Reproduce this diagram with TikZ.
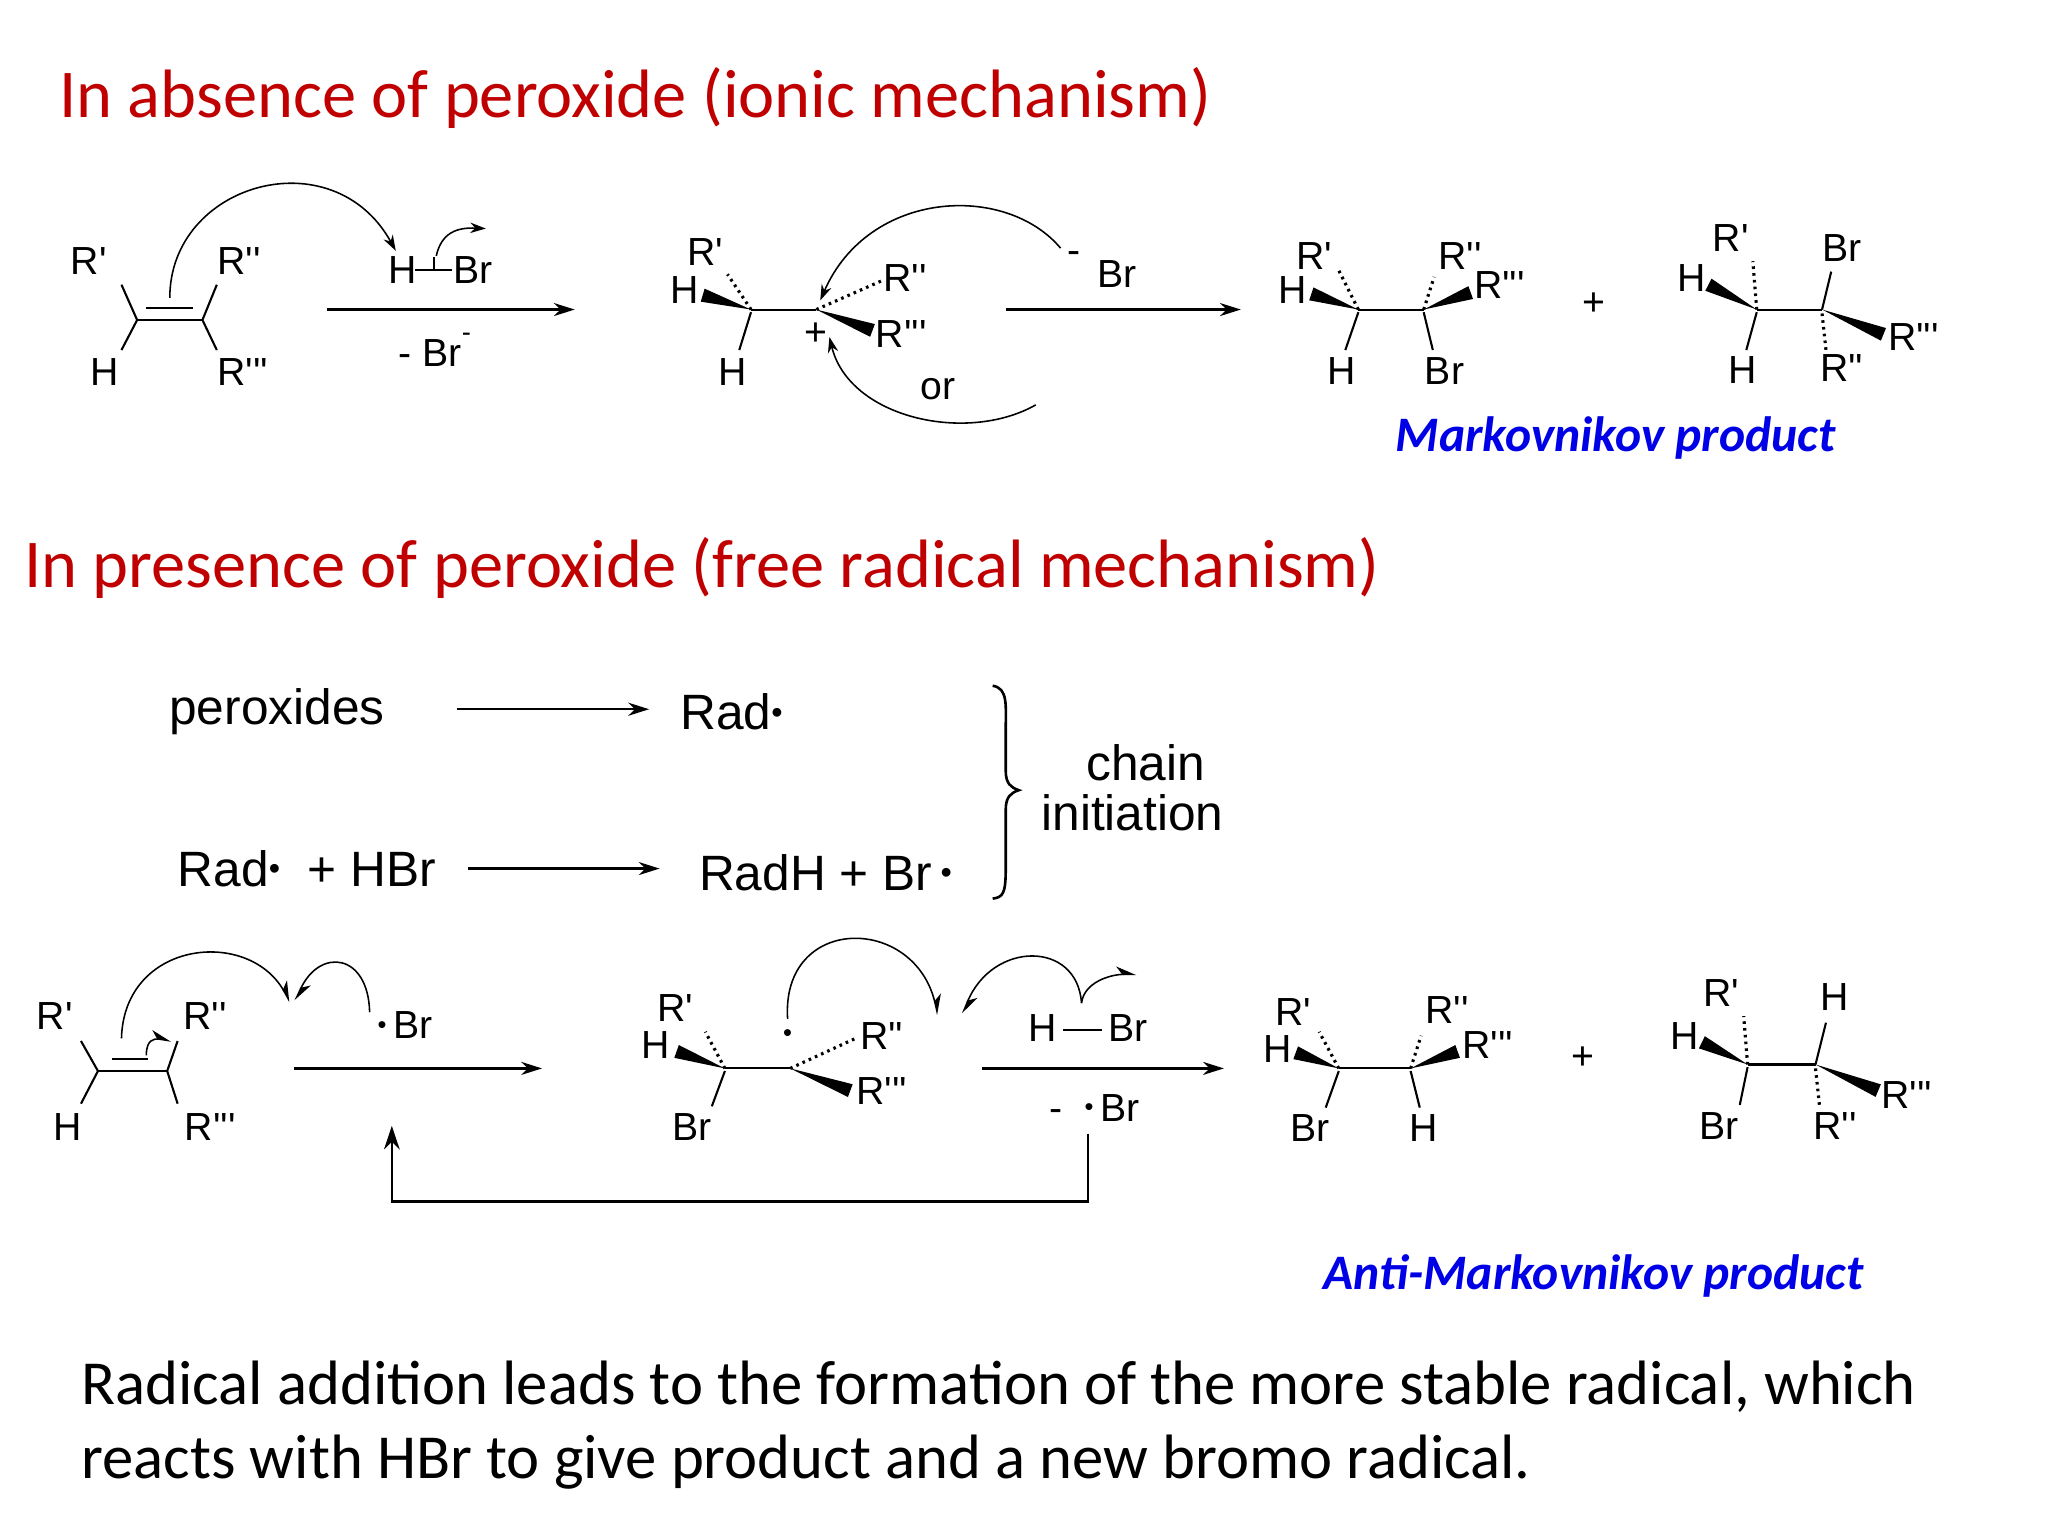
\documentclass[tikz,border=0pt]{standalone}
\usepackage{fontspec}
\setmainfont{Carlito}
\newfontfamily\chemf{Liberation Sans}
\usetikzlibrary{arrows.meta,calc,decorations.pathreplacing}
\definecolor{titred}{RGB}{192,0,0}
\definecolor{prodblue}{RGB}{0,0,230}
\tikzset{
 ch/.style={font=\chemf\fontsize{15}{15}\selectfont,inner sep=0pt},
 big/.style={font=\chemf\fontsize{19}{19}\selectfont,inner sep=0pt},
 ttl/.style={font=\fontsize{26.2}{26.2}\selectfont,text=titred,anchor=base west,inner sep=0pt},
 prod/.style={font=\bfseries\itshape\fontsize{19}{19}\selectfont,text=prodblue,inner sep=0pt},
 bd/.style={line width=0.8pt},
 rxn/.style={line width=0.9pt,-{Stealth[length=8pt,width=5pt]}},
 curly/.style={line width=0.6pt,-{Stealth[length=6pt,width=4pt]}},
 fish/.style={line width=0.6pt,-{Stealth[length=7pt,width=6pt,harpoon]}},
 hsh/.style={line width=1.2pt,dash pattern=on 1pt off 1.6pt},
}
\newcommand{\wdg}[2]{\fill ($#2!2.6pt!90:#1$) -- #1 -- ($#2!2.6pt!-90:#1$) -- cycle;}
\newcommand{\rdot}{\raisebox{0.25ex}{\scalebox{0.65}{\textbullet}}}
\begin{document}
\begin{tikzpicture}[x=0.5pt,y=-0.5pt]
\useasboundingbox[fill=white] (0,0) rectangle (1568,1176);
% titles
\node[ttl] (t1) at (45,90) {In absence of peroxide (ionic mechanism)};
\node[ttl] (t2) at (18,450) {In presence of peroxide (free radical mechanism)};
%%% section 1 alkene
\node[ch] (a1) at (68,200) {R'};
\node[ch] (a2) at (183,200) {R''};
\node[ch] (a3) at (80,285) {H};
\node[ch] (a4) at (186,285) {R'''};
\draw[bd] (105,245) -- (155,245);
\draw[bd] (112,236) -- (148,236);
\draw[bd] (105,245) -- (93,218) (105,245) -- (93,268) (155,245) -- (166,218) (155,245) -- (166,268);
\node[ch] (hb) at (308,207) {H};
\node[ch] (br1) at (362,207) {Br};
\draw[bd] (318,207) -- (346,207) (332,207) -- (332,197);
\draw[curly] (130,228) .. controls (130,140) and (255,105) .. (303,192);
\draw[curly] (334,196) .. controls (338,178) and (350,174) .. (372,175);
\draw[rxn] (250,237) -- (440,237);
\node[ch] (m1) at (333,268) {- Br\raisebox{1.2ex}{\scalebox{0.7}{-}}};
%%% carbocation
\node[ch] (c1) at (540,193) {R'};
\node[ch] (c2) at (524,222) {H};
\node[ch] (c3) at (561,285) {H};
\node[ch] (c4) at (693,213) {R''};
\node[ch] (c5) at (690,256) {R'''};
\node[ch] (c6) at (625,256) {+};
\draw[bd] (575,237) -- (625,237);
\wdg{(575,237)}{(538,226)}
\draw[hsh] (575,237) -- (557,210);
\draw[bd] (575,239) -- (566,268);
\draw[hsh] (625,237) -- (675,215);
\wdg{(625,237)}{(668,253)}
\node[ch] (br2) at (855,210) {Br};
\node[ch] (mn) at (822,197) {-};
\draw[curly] (812,190) .. controls (770,140) and (665,145) .. (628,230);
\draw[curly] (793,310) .. controls (740,340) and (650,320) .. (635,258);
\node[ch] (or) at (718,298) {or};
\draw[rxn] (770,237) -- (950,237);
%%% product 1
\node[ch] (p1) at (1006,196) {R'};
\node[ch] (p2) at (990,222) {H};
\node[ch] (p3) at (1027,284) {H};
\node[ch] (p4) at (1118,196) {R''};
\node[ch] (p5) at (1148,218) {R'''};
\node[ch] (p6) at (1106,284) {Br};
\draw[bd] (1040,237) -- (1090,237);
\wdg{(1040,237)}{(1004,225)}
\draw[hsh] (1040,237) -- (1025,207);
\draw[bd] (1040,239) -- (1030,268);
\draw[hsh] (1090,237) -- (1098,212);
\wdg{(1090,237)}{(1126,224)}
\draw[bd] (1090,239) -- (1097,268);
\node[ch] (pl1) at (1220,233) {+};
%%% product 2
\node[ch] (q1) at (1325,182) {R'};
\node[ch] (q2) at (1295,213) {H};
\node[ch] (q3) at (1334,283) {H};
\node[ch] (q4) at (1410,190) {Br};
\node[ch] (q5) at (1465,258) {R'''};
\node[ch] (q6) at (1410,282) {R''};
\draw[bd] (1345,237) -- (1395,237);
\wdg{(1345,237)}{(1308,218)}
\draw[hsh] (1345,237) -- (1342,200);
\draw[bd] (1345,239) -- (1337,268);
\draw[bd] (1395,237) -- (1402,208);
\wdg{(1395,237)}{(1442,256)}
\draw[hsh] (1395,240) -- (1398,268);
\node[prod] (mk) at (1237,335) {Markovnikov product};
%%% chain initiation
\node[big] (r1) at (212,545) {peroxides};
\node[big] (r2) at (560,545) {Rad\rdot};
\draw[rxn] (350,543) -- (497,543);
\node[big] (r3) at (235,665) {Rad\rdot\ \ + HBr};
\node[big] (r4) at (632,668) {RadH + Br\,\rdot};
\draw[rxn] (358,665) -- (505,665);
\draw[line width=1pt] (760,525) .. controls (772,527) and (770,540) .. (770,560) -- (770,590) .. controls (770,600) and (774,603) .. (780,605) .. controls (774,607) and (770,610) .. (770,620) -- (770,665) .. controls (770,684) and (768,687) .. (760,688);
\node[big,align=left,anchor=west] (ci) at (797,603) {\hspace{0.9em}chain\\initiation};
%%% radical section alkene
\node[ch] (b1) at (42,778) {R'};
\node[ch] (b2) at (157,778) {R''};
\node[ch] (b3) at (52,863) {H};
\node[ch] (b4) at (161,863) {R'''};
\draw[bd] (75,820) -- (128,820);
\draw[bd] (86,811) -- (113,811);
\draw[bd] (75,820) -- (62,797) (75,820) -- (62,845) (128,820) -- (136,797) (128,820) -- (136,845);
\draw[fish] (112,808) .. controls (112,796) and (118,795) .. (131,797);
\draw[fish] (93,795) .. controls (95,720) and (190,710) .. (222,767);
\draw[fish] (283,775) .. controls (282,730) and (245,725) .. (226,766);
\node[ch] (bbr) at (310,785) {\rdot\,Br};
\draw[rxn] (225,818) -- (415,818);
%%% radical intermediate
\node[ch] (d1) at (517,772) {R'};
\node[ch] (d2) at (502,800) {H};
\node[ch] (d3) at (530,863) {Br};
\node[ch] (d4) at (675,793) {R''};
\node[ch] (d5) at (675,835) {R'''};
\node[ch] (dd) at (603,795) {\rdot};
\draw[bd] (555,818) -- (605,818);
\wdg{(555,818)}{(518,805)}
\draw[hsh] (555,818) -- (540,790);
\draw[bd] (555,820) -- (545,847);
\draw[hsh] (605,818) -- (655,795);
\wdg{(605,818)}{(651,835)}
\draw[fish] (603,780) .. controls (598,700) and (700,700) .. (718,777);
\draw[fish] (828,768) .. controls (825,720) and (760,720) .. (737,776);
\node[ch] (hb2) at (833,787) {H\,\rule[0.5ex]{1em}{0.9pt}\,Br};
\draw[fish] (828,768) .. controls (830,752) and (850,746) .. (870,746);
\draw[rxn] (752,818) -- (937,818);
\node[ch] (db) at (838,848) {-\ \ \rdot\,Br};
\draw[line width=1pt,-{Stealth[length=9pt,width=6pt]}] (833,868) -- (833,920) -- (300,920) -- (300,862);
%%% product 3
\node[ch] (e1) at (990,775) {R'};
\node[ch] (e2) at (978,803) {H};
\node[ch] (e3) at (1003,864) {Br};
\node[ch] (e4) at (1090,864) {H};
\node[ch] (e5) at (1108,773) {R''};
\node[ch] (e6) at (1139,800) {R'''};
\draw[bd] (1025,818) -- (1080,818);
\wdg{(1025,818)}{(992,806)}
\draw[hsh] (1025,818) -- (1010,790);
\draw[bd] (1025,820) -- (1015,848);
\draw[hsh] (1080,818) -- (1088,793);
\wdg{(1080,818)}{(1116,805)}
\draw[bd] (1080,820) -- (1087,848);
\node[ch] (pl2) at (1212,810) {+};
%%% product 4
\node[ch] (f1) at (1318,760) {R'};
\node[ch] (f2) at (1290,793) {H};
\node[ch] (f3) at (1316,862) {Br};
\node[ch] (f4) at (1405,763) {H};
\node[ch] (f5) at (1460,838) {R'''};
\node[ch] (f6) at (1405,862) {R''};
\draw[bd] (1338,815) -- (1390,815);
\wdg{(1338,815)}{(1303,798)}
\draw[hsh] (1338,815) -- (1335,778);
\draw[bd] (1338,817) -- (1332,846);
\draw[bd] (1390,815) -- (1398,783);
\wdg{(1390,815)}{(1438,835)}
\draw[hsh] (1390,818) -- (1393,846);
\node[prod] (amk) at (1220,977) {Anti-Markovnikov product};
%%% paragraph
\node[anchor=base west,inner sep=0pt,font=\fontsize{24}{24}\selectfont] (txt1) at (62,1075) {Radical addition leads to the formation of the more stable radical, which};
\node[anchor=base west,inner sep=0pt,font=\fontsize{24}{24}\selectfont] (txt2) at (62,1132) {reacts with HBr to give product and a new bromo radical.};
\end{tikzpicture}
\end{document}
